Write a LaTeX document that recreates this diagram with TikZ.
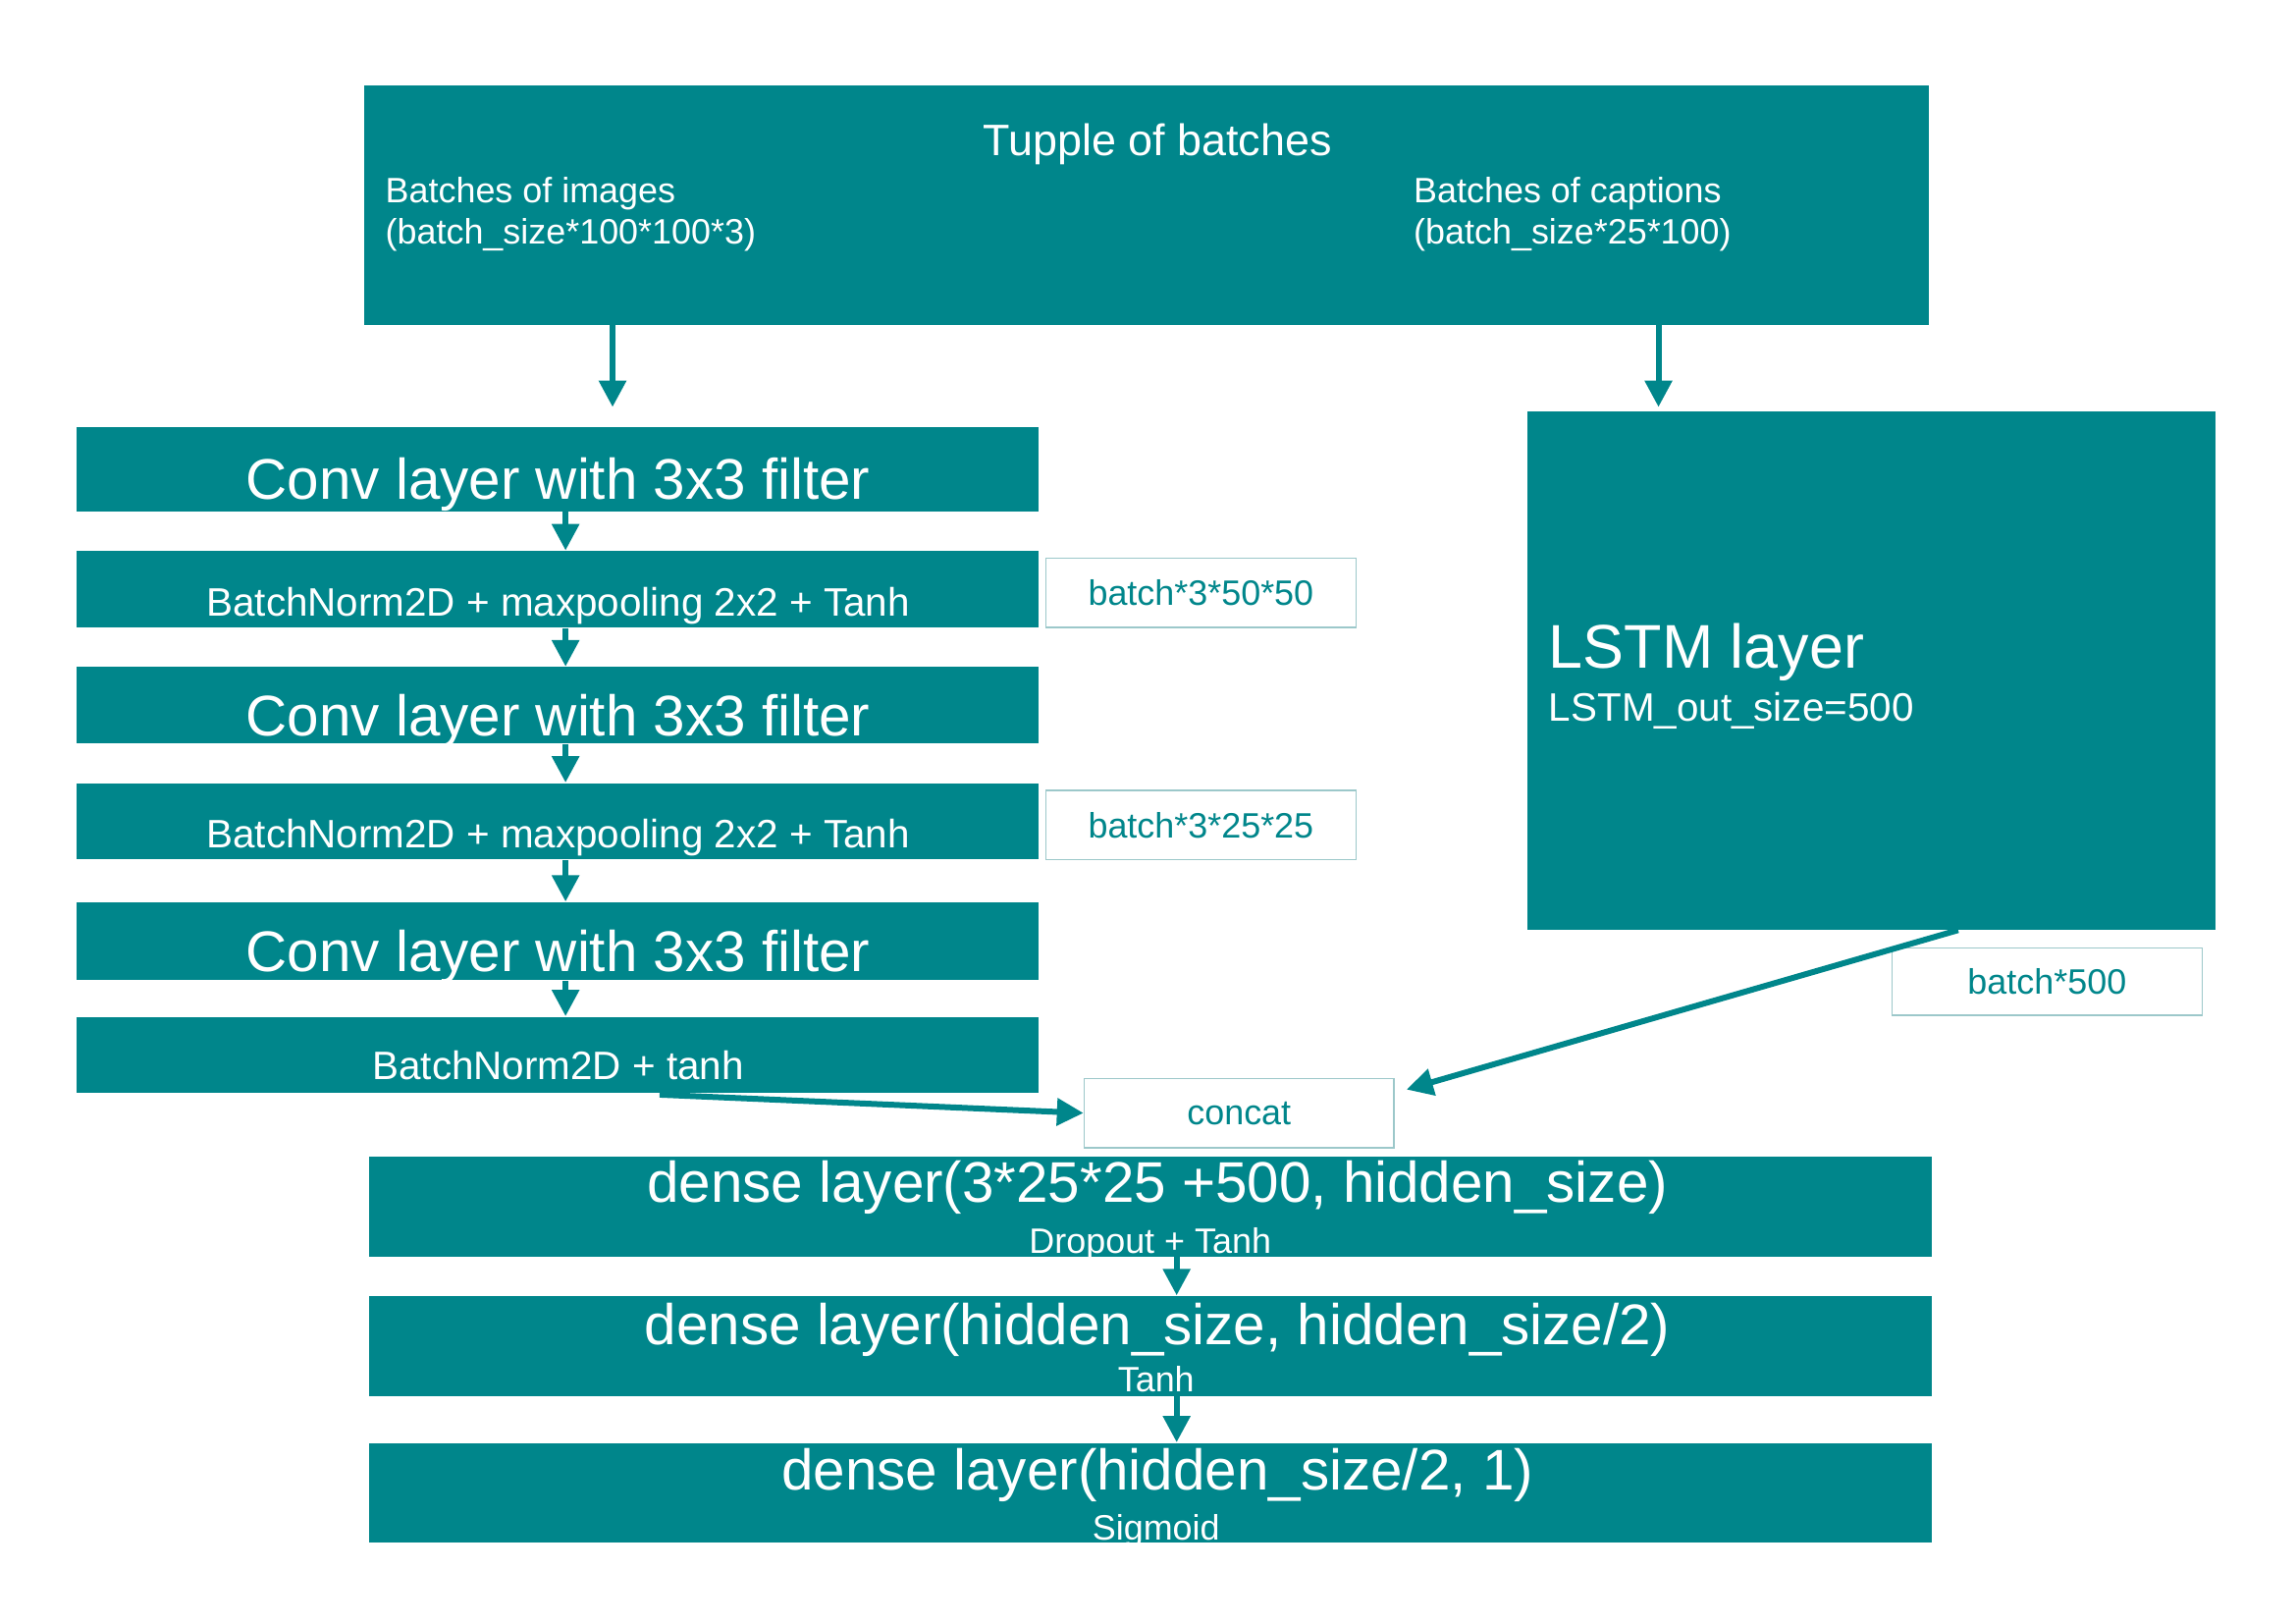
\documentclass[tikz,border=0pt]{standalone}
\usepackage{fontspec}
\setmainfont{Liberation Sans}
\usetikzlibrary{arrows.meta}
\definecolor{tl}{HTML}{00868B}
\definecolor{bd}{HTML}{9CC8CA}
\begin{document}
\begin{tikzpicture}[x=0.5pt,y=-0.5pt,
  blk/.style={fill=tl,draw=none,inner sep=0pt},
  lbl/.style={draw=bd,line width=0.5pt,fill=white,text=tl,font=\fontsize{12}{14}\selectfont,inner sep=0pt},
  wt/.style={text=white,inner sep=0pt,anchor=base},
  arr/.style={draw=tl,line width=2pt,-{Triangle[length=9pt,width=9pt]}}]
\useasboundingbox (0,0) rectangle (1563,1105);
\newcommand\bx[3]{\node[blk,minimum width=#2-#1,minimum height=0pt] at (0,0) {};}
% boxes
\fill[tl] (248,58) rectangle (1313,221);
\node[wt,font=\fontsize{15}{18}\selectfont] (tup) at (788,106) {Tupple of batches};
\node[wt,anchor=base west,font=\fontsize{12}{14}\selectfont,align=left] (bi) at (262,138) {Batches of images};
\node[wt,anchor=base west,font=\fontsize{12}{14}\selectfont] (bi2) at (262,166) {(batch\_size*100*100*3)};
\node[wt,anchor=base west,font=\fontsize{12}{14}\selectfont] (bc) at (962,138) {Batches of captions};
\node[wt,anchor=base west,font=\fontsize{12}{14}\selectfont] (bc2) at (962,166) {(batch\_size*25*100)};
\node[blk,minimum width=532.5pt,minimum height=81.5pt] (top) at (780.5,139.5) {};
\node[wt,font=\fontsize{15}{18}\selectfont] at (788,106) {Tupple of batches};
\node[wt,anchor=base west,font=\fontsize{12}{14}\selectfont] at (262,138) {Batches of images};
\node[wt,anchor=base west,font=\fontsize{12}{14}\selectfont] at (262,166) {(batch\_size*100*100*3)};
\node[wt,anchor=base west,font=\fontsize{12}{14}\selectfont] at (962,138) {Batches of captions};
\node[wt,anchor=base west,font=\fontsize{12}{14}\selectfont] at (962,166) {(batch\_size*25*100)};
% conv column
\node[blk,minimum width=327.5pt,minimum height=28.5pt] (c1) at (379.5,319.5) {};
\node[wt,font=\fontsize{19.5}{22}\selectfont] at (380,340) {Conv layer with 3x3 filter};
\node[blk,minimum width=327.5pt,minimum height=26pt] (b1) at (379.5,401) {};
\node[wt,font=\fontsize{13.5}{16}\selectfont] at (380,419) {BatchNorm2D + maxpooling 2x2 + Tanh};
\node[blk,minimum width=327.5pt,minimum height=26pt] (c2) at (379.5,480) {};
\node[wt,font=\fontsize{19.5}{22}\selectfont] at (380,501) {Conv layer with 3x3 filter};
\node[blk,minimum width=327.5pt,minimum height=26pt] (b2) at (379.5,559) {};
\node[wt,font=\fontsize{13.5}{16}\selectfont] at (380,577) {BatchNorm2D + maxpooling 2x2 + Tanh};
\node[blk,minimum width=327.5pt,minimum height=26.5pt] (c3) at (379.5,640.5) {};
\node[wt,font=\fontsize{19.5}{22}\selectfont] at (380,661) {Conv layer with 3x3 filter};
\node[blk,minimum width=327.5pt,minimum height=26pt] (b3) at (379.5,718) {};
\node[wt,font=\fontsize{13.5}{16}\selectfont] at (380,735) {BatchNorm2D + tanh};
% labels
\node[lbl,minimum width=105.5pt,minimum height=23.5pt] (l1) at (817.5,403.5) {batch*3*50*50};
\node[lbl,minimum width=105.5pt,minimum height=23.5pt] (l2) at (817.5,561.5) {batch*3*25*25};
\node[lbl,minimum width=105.5pt,minimum height=23pt] (l3) at (1393.5,668) {batch*500};
\node[lbl,minimum width=105.5pt,minimum height=23.5pt] (cc) at (843.5,757.5) {concat};
% LSTM
\node[blk,minimum width=234pt,minimum height=176.5pt] (ls) at (1274,456.5) {};
\node[wt,anchor=base west,font=\fontsize{21}{24}\selectfont] at (1054,455) {LSTM layer};
\node[wt,anchor=base west,font=\fontsize{13.5}{16}\selectfont] at (1054,491) {LSTM\_out\_size=500};
% dense
\node[blk,minimum width=532pt,minimum height=34pt] (d1) at (783,821) {};
\node[wt,font=\fontsize{19.5}{22}\selectfont] at (788,818) {dense layer(3*25*25 +500, hidden\_size)};
\node[wt,font=\fontsize{12}{14}\selectfont] at (783,853) {Dropout + Tanh};
\node[blk,minimum width=532pt,minimum height=34pt] (d2) at (783,916) {};
\node[wt,font=\fontsize{19.5}{22}\selectfont] at (788,915) {dense layer(hidden\_size, hidden\_size/2)};
\node[wt,font=\fontsize{12}{14}\selectfont] at (787,947) {Tanh};
\node[blk,minimum width=532pt,minimum height=34pt] (d3) at (783,1016) {};
\node[wt,font=\fontsize{19.5}{22}\selectfont] at (788,1014) {dense layer(hidden\_size/2, 1)};
\node[wt,font=\fontsize{12}{14}\selectfont] at (787,1048) {Sigmoid};
% arrows
\coordinate (t1) at (417,221); \coordinate (t1e) at (417,277);
\coordinate (t2) at (1129,221); \coordinate (t2e) at (1129,277);
\draw[arr] (t1) -- (t1e);
\draw[arr] (t2) -- (t2e);
\draw[arr] (c1.south -| 385,0) -- (b1.north -| 385,0);
\draw[arr] (b1.south -| 385,0) -- (c2.north -| 385,0);
\draw[arr] (c2.south -| 385,0) -- (b2.north -| 385,0);
\draw[arr] (b2.south -| 385,0) -- (c3.north -| 385,0);
\draw[arr] (c3.south -| 385,0) -- (b3.north -| 385,0);
\coordinate (s1) at (449,745); \coordinate (s2) at (1333,633);
\draw[arr] (s1) -- (cc.west);
\draw[arr] (s2) -- ([xshift=4pt,yshift=-4pt]cc.north east);
\draw[arr] (d1.south -| 801,0) -- (d2.north -| 801,0);
\draw[arr] (d2.south -| 801,0) -- (d3.north -| 801,0);
\end{tikzpicture}
\end{document}
